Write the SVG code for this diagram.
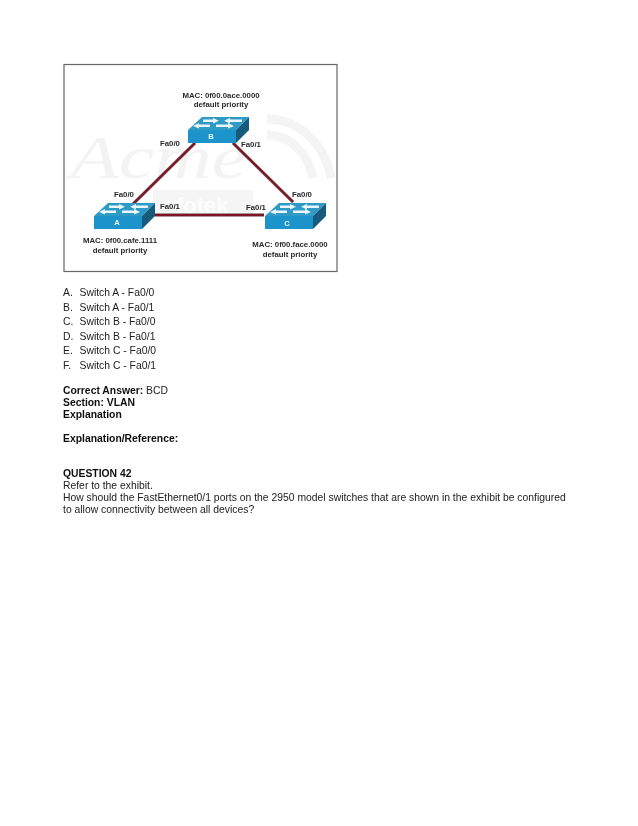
<svg xmlns="http://www.w3.org/2000/svg" width="638" height="826" viewBox="0 0 638 826">
<style>
text{font-family:"Liberation Sans",Arial,sans-serif}
.p{font-size:10.37px;fill:#222}
.b{font-size:10.37px;fill:#111;font-weight:700}
.l{font-size:7.8px;font-weight:700;fill:#2a2a2a;text-anchor:middle}
.n{font-size:7.6px;font-weight:700;fill:#e8f6fc;text-anchor:middle}
.top{fill:#2f9bc6}
.front{fill:#1b94cb}
.side{fill:#125a7c}
.ar{fill:#eaf6fb}
.lk{stroke:#7d1424;stroke-width:2.4;fill:none}
.lke{stroke:#2d2a2e;stroke-width:3.2;fill:none;opacity:.55}
</style>
<defs>
<filter id="soft" x="-5%" y="-5%" width="110%" height="110%"><feGaussianBlur stdDeviation="0.4"/></filter>
<filter id="soft2" x="-5%" y="-5%" width="110%" height="110%"><feGaussianBlur stdDeviation="0.22"/></filter>
<g id="sw">
<polygon class="top" points="0,13 14,0 61,0 48,13"/>
<polygon class="front" points="0,13 48,13 48,26 0,26"/>
<polygon class="side" points="48,13 61,0 61,13 48,26"/>
<path class="ar" d="M15,2.500H25V1L31,3.800 25,6.500V5H15Z M54,2.500H42V1L36,3.800 42,6.500V5H54Z M22,7.500H11V6L5,9 11,11.500V10H22Z M28,7.500H40V6L46,9 40,11.500V10H28Z"/>
</g>
</defs>
<rect width="638" height="826" fill="#fff"/>
<g filter="url(#soft)">
<rect x="64" y="64.500" width="273" height="207" fill="#fff" stroke="#666" stroke-width="1.200"/>
<g id="watermark">
<text x="70" y="178" font-size="62" textLength="177" lengthAdjust="spacingAndGlyphs" fill="#f3f3f3" style="font-family:'Liberation Serif',serif;font-style:italic">Acme</text>
<rect x="153" y="190" width="100" height="24" fill="#f5f5f5"/>
<text x="176" y="213" font-size="22" fill="#fcfcfc" font-weight="700">fotek</text>
<path d="M267,119C298,119 324,142 331,178M267,135C288,135 307,150 313,178" fill="none" stroke="#f4f4f4" stroke-width="9"/>
</g>
<g id="connectors">
<line class="lke" x1="195" y1="143" x2="133" y2="204"/>
<line class="lke" x1="233" y1="143" x2="293" y2="202"/>
<line class="lke" x1="155" y1="215" x2="264" y2="215"/>
<line class="lk" x1="195" y1="143" x2="133" y2="204"/>
<line class="lk" x1="233" y1="143" x2="293" y2="202"/>
<line class="lk" x1="155" y1="215" x2="264" y2="215"/>
</g>
<g id="switch-b">
<use href="#sw" x="188" y="117"/>
<text class="n" x="211" y="139">B</text>
<text class="l" x="221" y="98">MAC: 0f00.0ace.0000</text>
<text class="l" x="221" y="107">default priority</text>
</g>
<g id="switch-a">
<use href="#sw" x="94" y="203"/>
<text class="n" x="117" y="225">A</text>
<text class="l" x="120" y="243">MAC: 0f00.cafe.1111</text>
<text class="l" x="120" y="253">default priority</text>
</g>
<g id="switch-c">
<use href="#sw" x="265" y="203"/>
<text class="n" x="287" y="226">C</text>
<text class="l" x="290" y="247">MAC: 0f00.face.0000</text>
<text class="l" x="290" y="257">default priority</text>
</g>
<g id="port-labels">
<text class="l" x="170" y="146">Fa0/0</text>
<text class="l" x="251" y="147">Fa0/1</text>
<text class="l" x="124" y="197">Fa0/0</text>
<text class="l" x="170" y="209">Fa0/1</text>
<text class="l" x="256" y="210">Fa0/1</text>
<text class="l" x="302" y="197">Fa0/0</text>
</g>
</g>
<g id="page-text" filter="url(#soft2)">
<text class="p" x="63" y="296">A.</text><text class="p" x="79.500" y="296">Switch A - Fa0/0</text>
<text class="p" x="63" y="310.500">B.</text><text class="p" x="79.500" y="310.500">Switch A - Fa0/1</text>
<text class="p" x="63" y="325">C.</text><text class="p" x="79.500" y="325">Switch B - Fa0/0</text>
<text class="p" x="63" y="339.500">D.</text><text class="p" x="79.500" y="339.500">Switch B - Fa0/1</text>
<text class="p" x="63" y="354">E.</text><text class="p" x="79.500" y="354">Switch C - Fa0/0</text>
<text class="p" x="63" y="368.500">F.</text><text class="p" x="79.500" y="368.500">Switch C - Fa0/1</text>
<text class="b" x="63" y="394">Correct Answer: <tspan class="p" font-weight="400">BCD</tspan></text>
<text class="b" x="63" y="406">Section: VLAN</text>
<text class="b" x="63" y="418">Explanation</text>
<text class="b" x="63" y="442">Explanation/Reference:</text>
<text class="b" x="63" y="477">QUESTION 42</text>
<text class="p" x="63" y="489">Refer to the exhibit.</text>
<text class="p" x="63" y="500.500">How should the FastEthernet0/1 ports on the 2950 model switches that are shown in the exhibit be configured</text>
<text class="p" x="63" y="512.500">to allow connectivity between all devices?</text>
</g>
</svg>
